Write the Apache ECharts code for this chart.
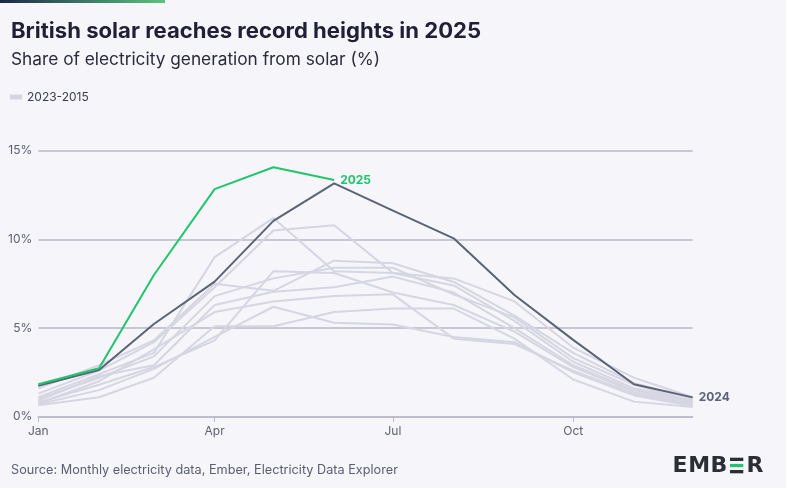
<!DOCTYPE html>
<html>
<head>
<meta charset="utf-8">
<script src="https://cdn.jsdelivr.net/npm/echarts@6/dist/echarts.min.js"></script>
<style>
html,body{margin:0;padding:0;background:#f5f5fa;}
#chart{width:786px;height:488px;}
</style>
</head>
<body>
<div id="chart"></div>
<script>
// ---- data ----
var months = ['Jan','Feb','Mar','Apr','May','Jun','Jul','Aug','Sep','Oct','Nov','Dec'];
var labelMonths = ['Jan','Apr','Jul','Oct'];
var yTicks = [0, 5, 10, 15];
var year2025 = [1.83, 2.73, 7.99, 12.83, 14.07, 13.35];
var year2024 = [1.75, 2.63, 5.23, 7.62, 11.04, 13.16, 11.62, 10.06, 6.86, 4.33, 1.83, 1.09];
var grey1 = [1.1, 2.4, 3.6, 9.0, 11.2, 8.2, 8.1, 7.4, 5.4, 3.1, 1.6, 0.9];
var grey2 = [1.3, 2.6, 4.2, 7.3, 10.5, 10.8, 8.1, 7.8, 6.5, 3.9, 2.2, 1.1];
var grey3 = [1.6, 2.9, 4.3, 7.5, 7.1, 8.8, 8.65, 7.6, 5.7, 3.6, 1.9, 1.0];
var grey4 = [1.0, 2.2, 3.4, 6.8, 7.8, 8.4, 8.4, 6.9, 5.6, 3.3, 1.8, 0.85];
var grey5 = [0.9, 2.3, 2.9, 6.3, 7.05, 7.3, 7.9, 7.0, 5.0, 2.9, 1.5, 0.8];
var grey6 = [0.8, 1.8, 2.8, 4.3, 8.2, 8.1, 7.0, 6.3, 4.8, 2.8, 1.4, 0.7];
var grey7 = [0.75, 2.0, 3.8, 5.9, 6.5, 6.8, 6.9, 4.4, 4.1, 2.6, 1.3, 0.65];
var grey8 = [0.7, 1.5, 2.7, 4.5, 6.2, 5.3, 5.2, 4.5, 4.2, 2.5, 1.2, 0.6];
var grey9 = [0.65, 1.1, 2.2, 5.1, 5.1, 5.9, 6.1, 6.1, 4.4, 2.1, 0.85, 0.55];
var greyYears = [grey1, grey2, grey3, grey4, grey5, grey6, grey7, grey8, grey9];

// ---- build ----
// x position = days since 1 Jan (first day of each month)
function monthDay(i){ return Math.round((Date.UTC(2025, i, 1) - Date.UTC(2025, 0, 1)) / 86400000); }
function toPoints(arr){ return arr.map(function(v,i){ return [monthDay(i), v]; }); }
var labelDays = labelMonths.map(function(m){ return monthDay(months.indexOf(m)); });
function dayToMonth(d){
  for (var i = 11; i >= 0; i--) { if (d >= monthDay(i)) return months[i]; }
  return '';
}

var FONT = 'Inter';
var series = [];
greyYears.forEach(function(arr){
  series.push({
    name: '2023-2015', type: 'line', data: toPoints(arr), symbol: 'none',
    lineStyle: {color: '#d6d6e3', width: 2}, itemStyle: {color: '#d6d6e3'},
    silent: true, z: 1
  });
});
series.push({
  name: '2024', type: 'line', data: toPoints(year2024), symbol: 'none',
  lineStyle: {color: '#5b6377', width: 2}, itemStyle: {color: '#5b6377'}, z: 3,
  endLabel: {show: true, formatter: '2024', color: '#5b6377', fontWeight: 700, fontSize: 12, fontFamily: FONT, distance: 6}
});
series.push({
  name: '2025', type: 'line', data: toPoints(year2025), symbol: 'none',
  lineStyle: {color: '#22c46d', width: 2}, itemStyle: {color: '#22c46d'}, z: 4,
  endLabel: {show: true, formatter: '2025', color: '#22c46d', fontWeight: 700, fontSize: 12, fontFamily: FONT, distance: 6}
});

var LOGO = '#2c2e35';
var logoFont = '700 22px "DejaVu Sans"';

var chart = echarts.init(document.getElementById('chart'), null, {renderer: 'canvas'});
chart.setOption({
  backgroundColor: '#f5f5fa',
  animation: false,
  textStyle: {fontFamily: FONT},
  grid: {left: 38.3, right: 93.3, top: 150.7, bottom: 71.3},
  legend: {
    data: ['2023-2015'], left: 10, top: 91, padding: 0, icon: 'rect', itemWidth: 12, itemHeight: 5,
    textStyle: {fontSize: 12, color: '#3a3d4d', fontFamily: FONT},
    selectedMode: false
  },
  xAxis: {
    type: 'value',
    min: monthDay(0), max: monthDay(11),
    axisLine: {show: true, lineStyle: {color: '#b9b9c8', width: 1.5}},
    axisTick: {show: true, length: 5, lineStyle: {color: '#b9b9c8'}, customValues: labelDays},
    axisLabel: {
      customValues: labelDays, color: '#5d6070', fontSize: 12, margin: 9, fontFamily: FONT,
      formatter: function(v){ return dayToMonth(v); }
    },
    splitLine: {show: false}
  },
  yAxis: {
    type: 'value', min: yTicks[0], max: yTicks[yTicks.length-1], interval: 5,
    axisLine: {show: false}, axisTick: {show: false},
    axisLabel: {formatter: '{value}%', color: '#5d6070', fontSize: 12, margin: 6, fontFamily: FONT},
    splitLine: {lineStyle: {color: '#b9b9c8', width: 1.5}}
  },
  series: series,
  graphic: [
    {type: 'rect', left: 0, top: 0, shape: {width: 165, height: 3},
     style: {fill: new echarts.graphic.LinearGradient(0,0,1,0,[{offset:0,color:'#1d2747'},{offset:1,color:'#5cc27f'}])}},
    {type: 'text', x: 11, y: 32, scaleX: 1.052, style: {text: 'British solar reaches record heights in 2025', fill: '#1f2036',
      font: '700 21px Inter', textVerticalAlign: 'middle'}},
    {type: 'text', x: 11, y: 60, style: {text: 'Share of electricity generation from solar (%)', fill: '#2a2b3b',
      font: '400 17.3px Inter', textVerticalAlign: 'middle'}},
    {type: 'text', x: 11, y: 470, style: {text: 'Source: Monthly electricity data, Ember, Electricity Data Explorer', fill: '#5a5e70',
      font: '400 12.7px Inter', textVerticalAlign: 'middle'}},
    {type: 'text', x: 680, y: 466, style: {text: 'E', fill: LOGO, font: logoFont, textAlign: 'center', textVerticalAlign: 'middle'}},
    {type: 'text', x: 699.3, y: 466, style: {text: 'M', fill: LOGO, font: logoFont, textAlign: 'center', textVerticalAlign: 'middle'}},
    {type: 'text', x: 719, y: 466, style: {text: 'B', fill: LOGO, font: logoFont, textAlign: 'center', textVerticalAlign: 'middle'}},
    {type: 'rect', shape: {x: 730, y: 457.7, width: 13.3, height: 3.3}, style: {fill: LOGO}},
    {type: 'rect', shape: {x: 730, y: 463.9, width: 13.3, height: 3.3}, style: {fill: '#22c46d'}},
    {type: 'rect', shape: {x: 730, y: 470, width: 13.3, height: 3.3}, style: {fill: LOGO}},
    {type: 'text', x: 755, y: 466, style: {text: 'R', fill: LOGO, font: logoFont, textAlign: 'center', textVerticalAlign: 'middle'}}
  ]
});
</script>
</body>
</html>
